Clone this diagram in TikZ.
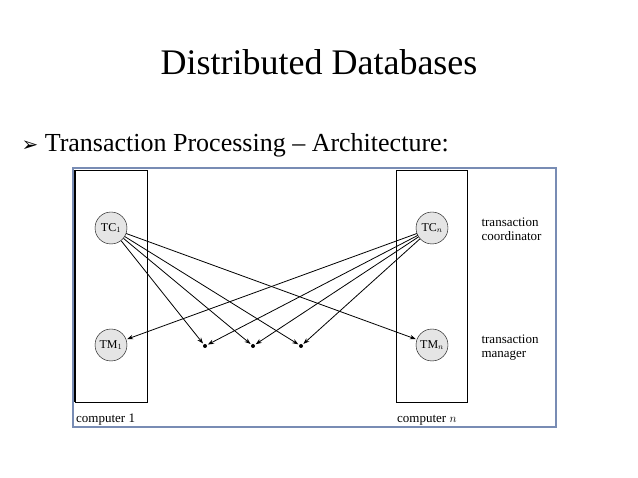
\documentclass[tikz,border=0pt]{standalone}
\usepackage{fontspec}
\setmainfont{Liberation Serif}
\newfontfamily\dingfont{DejaVu Sans}
\usetikzlibrary{arrows.meta, positioning}
\definecolor{framecol}{RGB}{120,140,180}
\begin{document}
\begin{tikzpicture}[x=1pt, y=-1pt,
    proc/.style  = {circle, draw, fill=gray!20, minimum size=32pt, inner sep=0pt, font=\fontsize{12}{12}\selectfont},
    site/.style  = {draw, thick},
    dot/.style   = {circle, fill, inner sep=0pt, minimum size=4pt},
    msg/.style   = {thick, -{Stealth[length=6pt]}, shorten >=1pt},
    lbl/.style   = {font=\fontsize{13}{14}\selectfont, align=left}
]
\useasboundingbox (0,0) rectangle (638,478);

% Title and bullet
\node (title) at (319,62) {\fontsize{36}{40}\selectfont Distributed Databases};
\node[anchor=west] (bullet) at (18,145) {\fontsize{26}{28}\selectfont {\dingfont\fontsize{20}{24}\selectfont ➢} Transaction Processing -- Architecture:};

% Frame and sites
\draw[framecol, line width=1.5pt] (73,168) rectangle (556,427);
\draw[site] (75,170) rectangle (147,402);
\draw[line width=2pt] (75,170) -- (75,402);
\draw[site] (396,170) rectangle (467,402);

% Nodes
\node[proc] (tc1) at (111,228) {TC$_1$};
\node[proc] (tm1) at (111,345) {TM$_1$};
\node[proc] (tcn) at (432,228) {TC$_n$};
\node[proc] (tmn) at (432,345) {TM$_n$};
\node[dot] (d1) at (205,346) {};
\node[dot] (d2) at (253,346) {};
\node[dot] (d3) at (301,346) {};

% Labels
\node[lbl, anchor=west] (lcoord) at (478,229) {transaction\\coordinator};
\node[lbl, anchor=west] (lman) at (478,348) {transaction\\manager};
\node[lbl, anchor=south west, inner sep=1pt] (c1) at (75,426) {computer 1};
\node[lbl, anchor=south west, inner sep=1pt] (cn) at (396,426) {computer $n$};

% Messages
\foreach \t in {d1,d2,d3,tmn} \draw[msg] (tc1) -- (\t);
\foreach \t in {tm1,d1,d2,d3} \draw[msg] (tcn) -- (\t);

\end{tikzpicture}
\end{document}
